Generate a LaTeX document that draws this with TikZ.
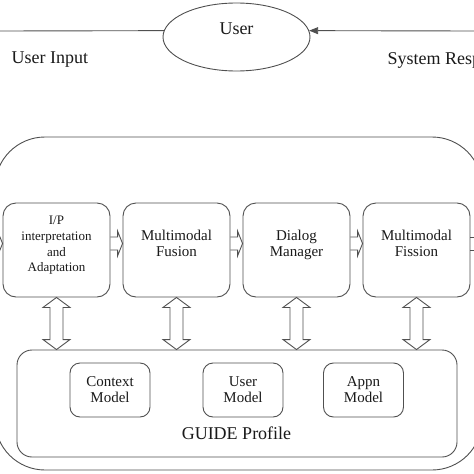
\documentclass[tikz,border=0pt]{standalone}
\usepackage{fontspec}
\setmainfont{Liberation Serif}
\usetikzlibrary{shapes.geometric,arrows.meta,calc}
\newcommand\fsz[2]{\fontsize{#1}{#2}\selectfont}
\definecolor{lncol}{HTML}{505050}
\definecolor{txcol}{HTML}{1A1A1A}
\begin{document}
\begin{tikzpicture}[x=1pt,y=-1pt,
  ln/.style={draw=lncol, line width=0.9pt},
  txt/.style={text=txcol, inner sep=0pt},
  proc/.style={ln, txt, rounded corners=13pt, minimum width=107pt, minimum height=94pt, align=center, font=\fsz{15}{16.5}},
  model/.style={ln, txt, rounded corners=10pt, minimum width=80pt, minimum height=54pt, align=center, font=\fsz{15}{16}},
  blk/.style={ln, line join=miter}]
\useasboundingbox (0,0) rectangle (474,474);
\fill[white] (0,0) rectangle (474,474);

% user ellipse
\node[ellipse, ln, minimum width=147pt, minimum height=68pt, inner sep=0pt] (user) at (236.5,37) {};
\node[txt, font=\fsz{18}{20}] (usertxt) at (236.5,29) {User};
\coordinate (inl) at (0,31);
\coordinate (inr) at (474,31);
\draw[ln] (inl) -- (user.175);
\draw[ln, -{Triangle[length=9pt,width=7pt]}] (inr) -- (user.5);
\node[txt, font=\fsz{18}{20}, anchor=west] (uin) at (11.5,60) {User Input};
\node[txt, font=\fsz{18}{20}, anchor=west] (sresp) at (387.5,60) {System Response};

% outer frame
\node[ln, rounded corners=50pt, minimum width=487pt, minimum height=333pt] (frame) at (238.5,303.5) {};

% processing boxes
\node[proc, font=\fsz{13}{15.7}] (b1) at (56.5,250) {I/P\\interpretation\\and\\Adaptation\\[-4pt]};
\node[proc] (b2) at (176.5,250) {Multimodal\\Fusion\\[-3pt]};
\node[proc] (b3) at (296.5,250) {Dialog\\Manager\\[-3pt]};
\node[proc] (b4) at (416.5,250) {Multimodal\\Fission\\[-3pt]};

% profile
\node[ln, rounded corners=15pt, minimum width=440pt, minimum height=107pt] (profile) at (237,403.5) {};
\node[txt, font=\fsz{18}{20}] (plabel) at (236.5,433) {GUIDE Profile};
\node[model] (ctx) at (110,390) {Context\\Model};
\node[model] (usm) at (243,390) {User\\Model};
\node[model] (apm) at (363.5,390) {Appn\\Model};

% horizontal block arrows
\foreach \a/\b in {b1/b2,b2/b3,b3/b4}{
  \draw[blk] ($(\a.east)+(0,-13)$) -- ($(\b.west)+(-5,-13)$) -- ($(\b.west)+(-5,-19)$)
    -- ($(\b.west)+(0,-6.5)$) -- ($(\b.west)+(-5,6)$) -- ($(\b.west)+(-5,0)$) -- ($(\a.east)+(0,0)$);
}
\coordinate (lin) at (-20,250);
\draw[blk] ($(lin)+(0,-13)$) -- ($(b1.west)+(-5,-13)$) -- ($(b1.west)+(-5,-19)$)
    -- ($(b1.west)+(0,-6.5)$) -- ($(b1.west)+(-5,6)$) -- ($(b1.west)+(-5,0)$) -- (lin);
\coordinate (rout) at (490,250);
\draw[blk] ($(b4.east)+(0,-13)$) -- ($(rout)+(0,-13)$);
\draw[blk] (b4.east) -- (rout);

% vertical double arrows
\foreach \a in {b1,b2,b3,b4}{
  \coordinate (T) at (\a.south);
  \coordinate (B) at (\a.south |- profile.north);
  \draw[blk] (T) -- ($(T)+(13.5,10)$) -- ($(T)+(6.5,10)$) -- ($(B)+(6.5,-10)$) -- ($(B)+(13.5,-10)$)
    -- (B) -- ($(B)+(-13.5,-10)$) -- ($(B)+(-6.5,-10)$) -- ($(T)+(-6.5,10)$) -- ($(T)+(-13.5,10)$) -- cycle;
}
\end{tikzpicture}
\end{document}
